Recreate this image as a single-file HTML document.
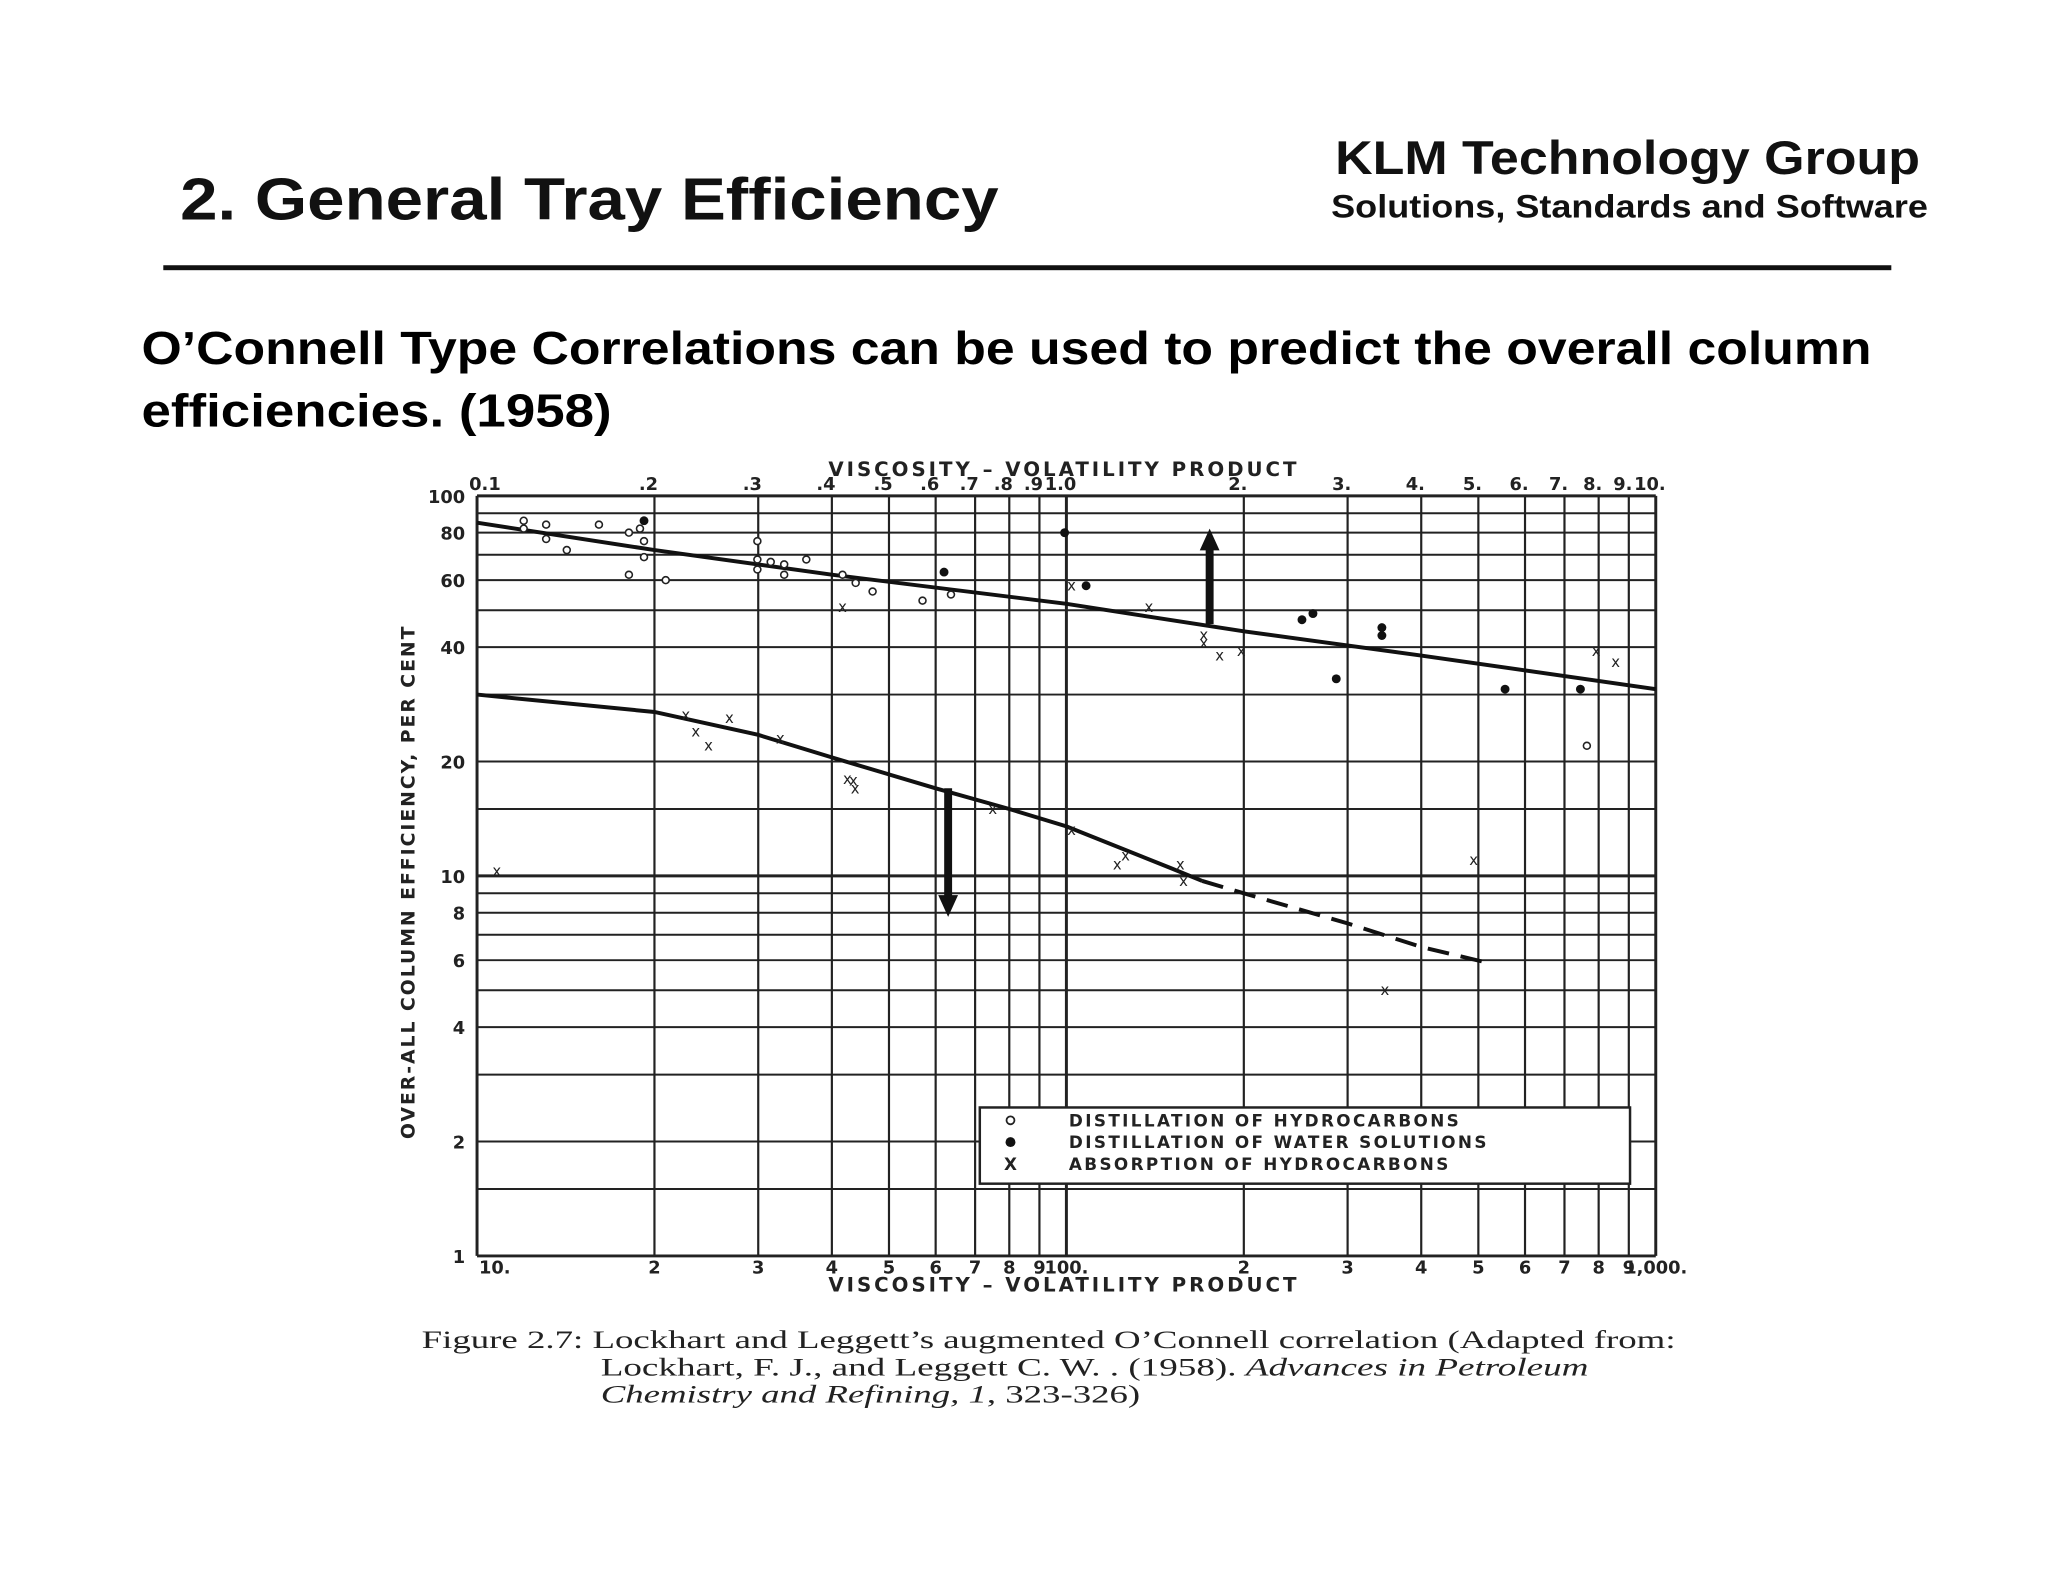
<!DOCTYPE html>
<html><head><meta charset="utf-8"><style>
html,body{margin:0;padding:0;background:#fff;}
svg{display:block;}
</style></head><body>
<svg id="page" width="2048" height="1582" viewBox="0 0 2048 1582" xmlns="http://www.w3.org/2000/svg">
<rect width="2048" height="1582" fill="#fff"/>
<g transform="scale(0.9897)">
<text x="182" y="222" font-family="Liberation Sans, sans-serif" font-weight="bold" font-size="60" textLength="827" lengthAdjust="spacingAndGlyphs" fill="#111">2. General Tray Efficiency</text>
<text x="1349" y="176" font-family="Liberation Sans, sans-serif" font-weight="bold" font-size="48" textLength="591" lengthAdjust="spacingAndGlyphs" fill="#111">KLM Technology Group</text>
<text x="1345" y="220" font-family="Liberation Sans, sans-serif" font-weight="bold" font-size="33" textLength="603" lengthAdjust="spacingAndGlyphs" fill="#111">Solutions, Standards and Software</text>
<rect x="165" y="268" width="1746" height="5" fill="#111"/>
<text x="143" y="368" font-family="Liberation Sans, sans-serif" font-weight="bold" font-size="47" textLength="1748" lengthAdjust="spacingAndGlyphs" fill="#000">O’Connell Type Correlations can be used to predict the overall column</text>
<text x="143" y="431" font-family="Liberation Sans, sans-serif" font-weight="bold" font-size="47" textLength="475" lengthAdjust="spacingAndGlyphs" fill="#000">efficiencies.  (1958)</text>
<g id="chart"></g>
<text x="426" y="1362" font-family="Liberation Serif, serif" font-size="26" textLength="1267" lengthAdjust="spacingAndGlyphs" fill="#222">Figure 2.7: Lockhart and Leggett’s augmented O’Connell correlation (Adapted from:</text>
<text x="607" y="1390" font-family="Liberation Serif, serif" font-size="26" textLength="998" lengthAdjust="spacingAndGlyphs" fill="#222">Lockhart, F. J., and Leggett C. W. . (1958). <tspan font-style="italic">Advances in Petroleum</tspan></text>
<text x="607" y="1417" font-family="Liberation Serif, serif" font-size="26" textLength="545" lengthAdjust="spacingAndGlyphs" fill="#222"><tspan font-style="italic">Chemistry and Refining, 1</tspan>, 323-326)</text>
</g>
</svg>
<script>
// ---- data ----
const upperCurveX = [10, 20, 40, 100, 200, 400, 1000];
const upperCurveY = [85, 72, 62, 52, 44, 38, 31];
const lowerSolidX = [10, 20, 30, 40, 60, 80, 100, 150, 170];
const lowerSolidY = [30, 27, 23.5, 20.5, 17, 15, 13.5, 10.5, 9.7];
const lowerDashX = [170, 200, 300, 400, 520];
const lowerDashY = [9.7, 9, 7.5, 6.5, 5.9];
const openX = [12,12,13.1,13.1,14.2,16.1,18.1,18.1,18.9,19.2,19.2,20.9,29.9,29.9,29.9,31.5,33.2,33.2,36.2,41.7,43.9,46.9,57,63.7,764];
const openY = [86,82,84,77,72,84,62,80,82,76,69,60,76,68,64,67,62,66,68,62,59,56,53,55,22];
const filledX = [19.2,62,99.3,108,251,262,343,343,287,555,745];
const filledY = [86,63,80,58,47.2,49,42.9,45,33,31,31];
const crossX = [10.8,41.7,102,138,171,171,182,198,792,855,22.6,23.5,24.7,26.8,32.7,42.5,43.8,43.5,75,102,122,126,156,158,347,491];
const crossY = [10.3,51,58,51,43,41,38,39,39,36.5,26.5,24,22,26,23,18,17,17.8,15,13.2,10.7,11.3,10.7,9.7,5,11];
const xMinor = [10,20,30,40,50,60,70,80,90,100,200,300,400,500,600,700,800,900,1000];
const yGrid = [1,1.5,2,3,4,5,6,7,8,9,10,15,20,30,40,50,60,70,80,90,100];
const yTickVals = [100,80,60,40,20,10,8,6,4,2,1];
const yTickText = ["100","80","60","40","20","10","8","6","4","2","1"];
const xBotVals = [10,20,30,40,50,60,70,80,90,100,200,300,400,500,600,700,800,900,1000];
const xBotText = ["10.","2","3","4","5","6","7","8","9","100.","2","3","4","5","6","7","8","9","1,000."];
const xTopText = ["0.1",".2",".3",".4",".5",".6",".7",".8",".9","1.0","2.","3.","4.","5.","6.","7.","8.","9.","10."];
const legendLabels = ["DISTILLATION  OF  HYDROCARBONS","DISTILLATION  OF  WATER  SOLUTIONS","ABSORPTION  OF  HYDROCARBONS"];

// ---- axes ----
const L=482,R=1673,T=501,B=1269;
const sx=v=>L+(Math.log10(v)-1)/2*(R-L);
const sy=v=>B-Math.log10(v)/2*(B-T);
const NS="http://www.w3.org/2000/svg";
const g=document.getElementById('chart');
function mk(tag,attrs,parent){const e=document.createElementNS(NS,tag);for(const k in attrs)e.setAttribute(k,attrs[k]);(parent||g).appendChild(e);return e;}
const F='DejaVu Sans, Liberation Sans, sans-serif';

xMinor.forEach(v=>{
  const e=mk('line',{x1:sx(v),x2:sx(v),y1:T,y2:B,stroke:'#222','stroke-width':(v===10||v===100||v===1000)?3:2.2});
  
  
});
yGrid.forEach(v=>{
  const e=mk('line',{x1:L,x2:R,y1:sy(v),y2:sy(v),stroke:'#222','stroke-width':(v===1||v===10||v===100)?3:2});
  
  
});
yTickVals.forEach((v,i)=>{
  const e=mk('text',{x:470,y:sy(v)+7,'text-anchor':'end','font-family':F,'font-weight':'bold','font-size':18,fill:'#222'});
  e.textContent=yTickText[i];
  
  
});
xBotVals.forEach((v,i)=>{
  const e=mk('text',{x:sx(v)+(i===0?2:0),y:1287,'text-anchor':i===0?'start':'middle','font-family':F,'font-weight':'bold','font-size':18,fill:'#222'});
  e.textContent=xBotText[i];
  
  
});
xBotVals.forEach((v,i)=>{
  const e=mk('text',{x:sx(v)-6+(i===0?14:0),y:495,'text-anchor':'middle','font-family':F,'font-weight':'bold','font-size':18,fill:'#222'});
  e.textContent=xTopText[i];
  
  
});
let t=mk('text',{x:1075,y:481,'text-anchor':'middle','font-family':F,'font-weight':'bold','font-size':20,'letter-spacing':3,fill:'#222'});
t.textContent='VISCOSITY – VOLATILITY   PRODUCT';


t=mk('text',{x:1075,y:1305,'text-anchor':'middle','font-family':F,'font-weight':'bold','font-size':20,'letter-spacing':3,fill:'#222'});
t.textContent='VISCOSITY – VOLATILITY   PRODUCT';


t=mk('text',{x:0,y:0,'text-anchor':'middle','font-family':F,'font-weight':'bold','font-size':19,'letter-spacing':2,fill:'#222',transform:'translate(419,891) rotate(-90)'});
t.textContent='OVER-ALL COLUMN  EFFICIENCY,   PER CENT';



function path(xs,ys){return xs.map((x,i)=>(i?'L':'M')+sx(x).toFixed(1)+' '+sy(ys[i]).toFixed(1)).join(' ');}
let p=mk('path',{d:path(upperCurveX,upperCurveY),fill:'none',stroke:'#111','stroke-width':4});


p=mk('path',{d:path(lowerSolidX,lowerSolidY),fill:'none',stroke:'#111','stroke-width':4});


p=mk('path',{d:path(lowerDashX,lowerDashY),fill:'none',stroke:'#111','stroke-width':4,'stroke-dasharray':'22 12'});



openX.forEach((x,i)=>{
  const e=mk('circle',{cx:sx(x),cy:sy(openY[i]),r:3.5,fill:'#fff',stroke:'#222','stroke-width':1.6});
  
  
});
filledX.forEach((x,i)=>{
  const e=mk('circle',{cx:sx(x),cy:sy(filledY[i]),r:4.5,fill:'#111'});
  
  
});
crossX.forEach((x,i)=>{
  const e=mk('text',{x:sx(x),y:sy(crossY[i])+5,'text-anchor':'middle','font-family':F,'font-size':15,fill:'#222'});
  e.textContent='x';
  
  
});

function arrow(xv,y1,y2,name){
  const x=sx(xv),a=sy(y1),b=sy(y2),dir=b<a?-1:1;
  const e=mk('path',{d:`M${x-4} ${a} L${x-4} ${b-dir*22} L${x-10} ${b-dir*22} L${x} ${b} L${x+10} ${b-dir*22} L${x+4} ${b-dir*22} L${x+4} ${a} Z`,fill:'#111'});
  
  
}
arrow(175,46,82,'up-arrow');
arrow(63,17,7.8,'down-arrow');

const lg=mk('g',{});


mk('rect',{x:990,y:1119,width:657,height:77,fill:'#fff',stroke:'#222','stroke-width':2.5},lg);
const sym=[['circle',{r:4,fill:'#fff',stroke:'#222','stroke-width':1.8}],['circle',{r:5,fill:'#111'}],null];
legendLabels.forEach((s,i)=>{
  const y=1137+i*22;
  if(sym[i]){const c=mk('circle',Object.assign({cx:1021,cy:y-5},sym[i][1]),lg);}
  else{const c=mk('text',{x:1021,y:y+1,'text-anchor':'middle','font-family':F,'font-weight':'bold','font-size':17,fill:'#222'},lg);c.textContent='X';}
  const e=mk('text',{x:1080,y:y+1,'font-family':F,'font-weight':'bold','font-size':17,'letter-spacing':2.4,fill:'#222'},lg);
  e.textContent=s;
  
  
});
</script>
</body></html>
